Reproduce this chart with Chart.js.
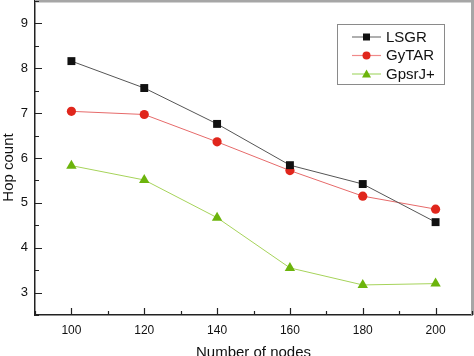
<!DOCTYPE html>
<html>
<head>
<meta charset="utf-8">
<script src="https://cdn.jsdelivr.net/npm/chart.js@4/dist/chart.umd.min.js"></script>
<style>
html,body{margin:0;padding:0;background:#fff;}
#wrap{width:474px;height:356px;position:relative;}
</style>
</head>
<body>
<div id="wrap"><canvas id="c"></canvas></div>
<script>
const nodes = [100, 120, 140, 160, 180, 200];
const lsgr = [8.16, 7.56, 6.76, 5.84, 5.42, 4.57];
const gytar = [7.04, 6.97, 6.36, 5.72, 5.15, 4.86];
const gpsrj = [5.83, 5.51, 4.67, 3.55, 3.17, 3.20];
const seriesNames = ['LSGR', 'GyTAR', 'GpsrJ+'];
const xTitle = 'Number of nodes';
const yTitle = 'Hop count';

const toXY = arr => nodes.map((n, i) => ({x: n, y: arr[i]}));
const FONT = '"Liberation Sans", Arial, sans-serif';

const frame = {
  id: 'frame',
  afterDraw(chart) {
    const ctx = chart.ctx, a = chart.chartArea;
    const xs = chart.scales.x, ys = chart.scales.y;
    ctx.save();
    // gray top & right frame
    ctx.strokeStyle = '#a6a6a6';
    ctx.lineWidth = 3;
    ctx.beginPath();
    ctx.moveTo(a.left, 1); ctx.lineTo(474, 1);
    ctx.moveTo(472.5, 0); ctx.lineTo(472.5, a.bottom);
    ctx.stroke();
    // inward tick marks
    ctx.strokeStyle = '#222';
    ctx.lineWidth = 1.2;
    ctx.beginPath();
    xs.ticks.forEach(t => {
      const px = Math.round(xs.getPixelForValue(t.value)) + 0.5;
      const len = (t.value % 20 === 0) ? 7 : 4;
      ctx.moveTo(px, a.bottom); ctx.lineTo(px, a.bottom - len);
    });
    ys.ticks.forEach(t => {
      const py = Math.round(ys.getPixelForValue(t.value)) + 0.5;
      const len = Number.isInteger(t.value) ? 7 : 4;
      ctx.moveTo(a.left, py); ctx.lineTo(a.left + len, py);
    });
    ctx.stroke();
    // axis titles
    ctx.fillStyle = '#111';
    ctx.font = '15px ' + FONT;
    ctx.textAlign = 'center';
    ctx.textBaseline = 'alphabetic';
    ctx.fillText(xTitle, (a.left + a.right) / 2, 357);
    ctx.translate(13, 167.5);
    ctx.rotate(-Math.PI / 2);
    ctx.fillText(yTitle, 0, 0);
    ctx.restore();

    // legend
    ctx.save();
    const bx = 337, by = 24, bw = 107, bh = 60;
    ctx.strokeStyle = '#8a8a8a';
    ctx.lineWidth = 1;
    ctx.strokeRect(bx + 0.5, by + 0.5, bw, bh);
    const legendLine = ['#7a7a7a', '#f08a8a', '#a8d870'];
    chart.data.datasets.forEach((ds, i) => {
      const y = 37 + i * 18.5;
      ctx.strokeStyle = legendLine[i];
      ctx.lineWidth = 1.2;
      ctx.beginPath(); ctx.moveTo(352, y); ctx.lineTo(381, y); ctx.stroke();
      ctx.fillStyle = ds.pointBackgroundColor;
      const cx = 366.5;
      ctx.beginPath();
      if (ds.pointStyle === 'rect') ctx.rect(cx - 3.5, y - 3.5, 7, 7);
      else if (ds.pointStyle === 'circle') ctx.arc(cx, y, 4, 0, Math.PI * 2);
      else { ctx.moveTo(cx, y - 4.5); ctx.lineTo(cx + 4.5, y + 3.5); ctx.lineTo(cx - 4.5, y + 3.5); ctx.closePath(); }
      ctx.fill();
      ctx.fillStyle = '#111';
      ctx.font = '15px ' + FONT;
      ctx.textAlign = 'left';
      ctx.textBaseline = 'middle';
      ctx.fillText(ds.label, 386, y + 0.5);
    });
    ctx.restore();
  }
};

const noPad = s => { s.paddingTop = 0; s.paddingBottom = 0; s.paddingLeft = 0; s.paddingRight = 0; };

new Chart(document.getElementById('c'), {
  type: 'line',
  data: {
    datasets: [
      {label: seriesNames[0], data: toXY(lsgr), borderColor: '#555555', borderWidth: 1,
       pointStyle: 'rect', pointRadius: 5.6, pointBackgroundColor: '#111111', pointBorderWidth: 0},
      {label: seriesNames[1], data: toXY(gytar), borderColor: '#e66a6a', borderWidth: 1,
       pointStyle: 'circle', pointRadius: 4.6, pointBackgroundColor: '#e0261c', pointBorderWidth: 0},
      {label: seriesNames[2], data: toXY(gpsrj), borderColor: '#a6d35a', borderWidth: 1,
       pointStyle: 'triangle', pointRadius: 6, pointBackgroundColor: '#6cb40c', pointBorderWidth: 0}
    ]
  },
  options: {
    responsive: true,
    maintainAspectRatio: false,
    animation: false,
    devicePixelRatio: 1,
    layout: {padding: {top: 1, right: 2, left: 0, bottom: 0}, autoPadding: false},
    plugins: {legend: {display: false}, tooltip: {enabled: false}},
    elements: {line: {tension: 0}},
    scales: {
      x: {
        type: 'linear', min: 90, max: 210,
        afterFit: s => { s.height = 41; noPad(s); },
        grid: {display: false, drawTicks: false},
        border: {display: true, color: '#222', width: 1.5},
        ticks: {stepSize: 10, autoSkip: false, maxRotation: 0, padding: 8, color: '#111',
                font: {family: FONT, size: 12},
                callback: v => (v % 20 === 0 ? String(v) : '')}
      },
      y: {
        type: 'linear', min: 2.5, max: 9.5,
        afterFit: s => { s.width = 35; noPad(s); },
        grid: {display: false, drawTicks: false},
        border: {display: true, color: '#222', width: 1.5},
        ticks: {stepSize: 0.5, autoSkip: false, padding: 7, color: '#111',
                font: {family: FONT, size: 13},
                callback: v => (Number.isInteger(v) ? String(v) : '')}
      }
    }
  },
  plugins: [frame]
});
</script>
</body>
</html>
